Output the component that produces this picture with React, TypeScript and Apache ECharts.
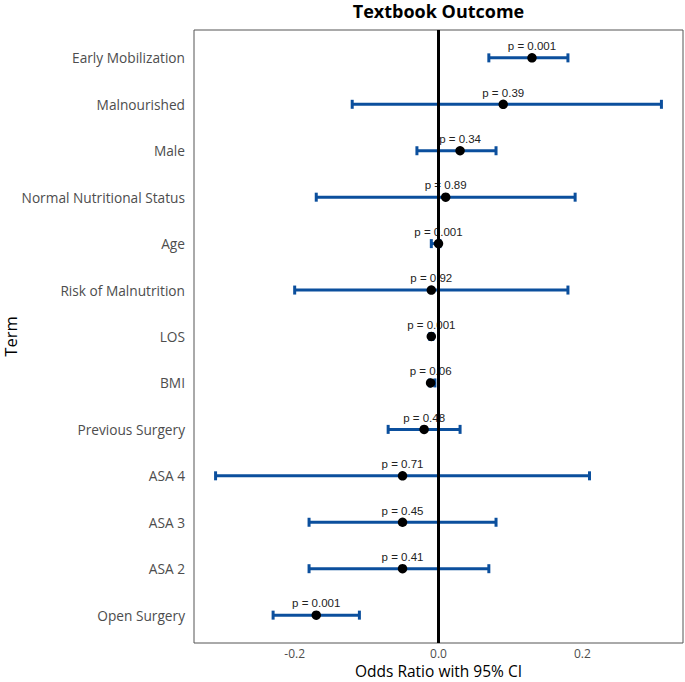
import React, { useEffect, useRef } from "react";
import * as echarts from "echarts";

const terms = [
  "Early Mobilization",
  "Malnourished",
  "Male",
  "Normal Nutritional Status",
  "Age",
  "Risk of Malnutrition",
  "LOS",
  "BMI",
  "Previous Surgery",
  "ASA 4",
  "ASA 3",
  "ASA 2",
  "Open Surgery",
];
const estimates = [0.13, 0.09, 0.03, 0.01, 0.0, -0.01, -0.01, -0.011, -0.02, -0.05, -0.05, -0.05, -0.17];
const lower = [0.07, -0.12, -0.03, -0.17, -0.01, -0.2, -0.012, -0.012, -0.07, -0.31, -0.18, -0.18, -0.23];
const upper = [0.18, 0.31, 0.08, 0.19, 0.002, 0.18, -0.008, -0.005, 0.03, 0.21, 0.08, 0.07, -0.11];
const pValues = ["0.001", "0.39", "0.34", "0.89", "0.001", "0.92", "0.001", "0.06", "0.48", "0.71", "0.45", "0.41", "0.001"];
const xTicks = [-0.2, 0.0, 0.2];

const BLUE = "#0b4f9d";
const AXIS_FONT = "Open Sans";

export default function App() {
  const ref = useRef<HTMLDivElement>(null);
  useEffect(() => {
    if (!ref.current) return;
    const chart = echarts.init(ref.current, undefined, { renderer: "svg" });
    const unit = 613 / 13.2;
    const dataTop = 30 + 0.1 * unit;
    const dataBottom = 682 - (dataTop + 13 * unit);
    const option: any = {
      animation: false,
      backgroundColor: "#ffffff",
      title: {
        text: "Textbook Outcome",
        left: 438.5,
        top: 2,
        padding: 0,
        textAlign: "center",
        textStyle: { fontFamily: AXIS_FONT, fontWeight: "bold", fontSize: 18, color: "#000" },
      },
      grid: [
        {
          left: 194, right: 2, top: 30, bottom: 39,
          show: true, borderColor: "#555", borderWidth: 1, backgroundColor: "#fff",
          outerBoundsMode: "none", containLabel: false,
        },
        {
          left: 194, right: 2, top: dataTop, bottom: dataBottom,
          show: false, outerBoundsMode: "none", containLabel: false,
        },
      ],
      xAxis: [
        {
          gridIndex: 0,
          type: "value",
          min: -0.34,
          max: 0.34,
          splitLine: { show: false },
          axisLine: { show: false },
          axisTick: { show: false },
          axisLabel: {
            margin: 4,
            fontFamily: AXIS_FONT,
            fontSize: 12,
            lineHeight: 12,
            color: "#4d4d4d",
            formatter: (v: number) => {
              const hit = xTicks.find((t) => Math.abs(t - v) < 1e-6);
              return hit === undefined ? "" : hit.toFixed(1);
            },
          },
          name: "Odds Ratio with 95% CI",
          nameLocation: "middle",
          nameGap: 20,
          nameMoveOverlap: false,
          nameTextStyle: { fontFamily: AXIS_FONT, fontSize: 15.5, lineHeight: 15, color: "#000" },
        },
        { gridIndex: 1, type: "value", min: -0.34, max: 0.34, show: false },
      ],
      yAxis: [
        { gridIndex: 0, type: "value", min: 0, max: 1, show: false },
        {
          gridIndex: 1,
          type: "category",
          inverse: true,
          data: terms,
          axisLine: { show: false },
          axisTick: { show: false },
          splitLine: { show: false },
          axisLabel: { margin: 9, fontFamily: AXIS_FONT, fontSize: 13.7, color: "#4d4d4d" },
          name: "Term",
          nameLocation: "middle",
          nameGap: 175,
          nameRotate: 90,
          nameMoveOverlap: false,
          nameTextStyle: { fontFamily: AXIS_FONT, fontSize: 16.5, color: "#000" },
        },
      ],
      series: [
        {
          type: "custom",
          xAxisIndex: 1,
          yAxisIndex: 1,
          z: 2,
          encode: { x: [0, 2], y: 1 },
          data: terms.map((t, i) => [lower[i], i, upper[i]]),
          renderItem: (params: any, api: any) => {
            const yi = api.value(1);
            const lo = api.coord([api.value(0), yi]);
            const hi = api.coord([api.value(2), yi]);
            const h = 4.5;
            const style = { stroke: BLUE, lineWidth: 3, fill: "none" };
            return {
              type: "group",
              children: [
                { type: "line", shape: { x1: lo[0], y1: lo[1], x2: hi[0], y2: hi[1] }, style },
                { type: "line", shape: { x1: lo[0], y1: lo[1] - h, x2: lo[0], y2: lo[1] + h }, style },
                { type: "line", shape: { x1: hi[0], y1: hi[1] - h, x2: hi[0], y2: hi[1] + h }, style },
              ],
            };
          },
        },
        {
          type: "scatter",
          xAxisIndex: 1,
          yAxisIndex: 1,
          z: 3,
          symbol: "circle",
          symbolSize: 9.5,
          itemStyle: { color: "#000", opacity: 1 },
          data: terms.map((t, i) => [estimates[i], i, pValues[i]]),
          label: {
            show: true,
            position: "top",
            distance: 1,
            fontFamily: "Liberation Sans",
            fontSize: 11.5,
            color: "#222",
            formatter: (p: any) => "p = " + p.data[2],
          },
        },
        {
          type: "line",
          xAxisIndex: 0,
          yAxisIndex: 0,
          z: 5,
          symbol: "none",
          lineStyle: { color: "#000", width: 3 },
          data: [
            [0, 0],
            [0, 1],
          ],
        },
      ],
    };
    chart.setOption(option);
    return () => chart.dispose();
  }, []);
  return <div ref={ref} style={{ position: "absolute", left: 0, top: 0, width: 685, height: 682 }} />;
}
